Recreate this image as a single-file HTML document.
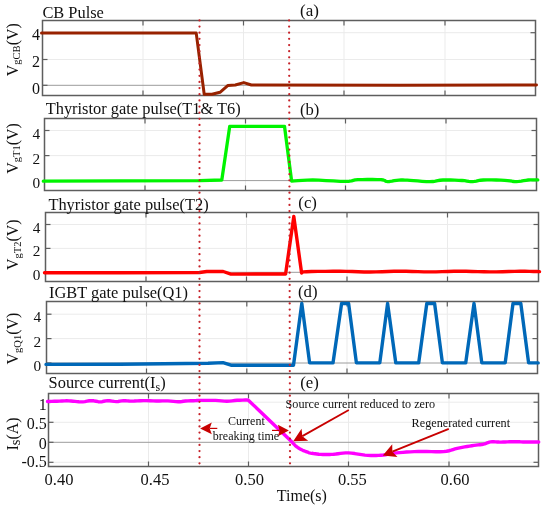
<!DOCTYPE html><html><head><meta charset="utf-8"><title>Figure</title>
<style>html,body{margin:0;padding:0;background:#fff;width:550px;height:513px;overflow:hidden}svg{display:block}text{font-family:'Liberation Serif', 'Times New Roman', serif;fill:#111}</style></head><body>
<svg width="550" height="513" viewBox="0 0 550 513">
<rect x="0" y="0" width="550" height="513" fill="#fff"/>
<line x1="143" y1="20.5" x2="143" y2="95.5" stroke="#ebebeb" stroke-width="1"/><line x1="243.5" y1="20.5" x2="243.5" y2="95.5" stroke="#ebebeb" stroke-width="1"/><line x1="344" y1="20.5" x2="344" y2="95.5" stroke="#ebebeb" stroke-width="1"/><line x1="445" y1="20.5" x2="445" y2="95.5" stroke="#ebebeb" stroke-width="1"/><line x1="42.5" y1="32.7" x2="535.5" y2="32.7" stroke="#ebebeb" stroke-width="1"/><line x1="42.5" y1="59.5" x2="535.5" y2="59.5" stroke="#ebebeb" stroke-width="1"/><line x1="42.5" y1="85.3" x2="535.5" y2="85.3" stroke="#9c9c9c" stroke-width="1"/>
<line x1="145" y1="118.5" x2="145" y2="190.5" stroke="#ebebeb" stroke-width="1"/><line x1="245.5" y1="118.5" x2="245.5" y2="190.5" stroke="#ebebeb" stroke-width="1"/><line x1="345.5" y1="118.5" x2="345.5" y2="190.5" stroke="#ebebeb" stroke-width="1"/><line x1="446" y1="118.5" x2="446" y2="190.5" stroke="#ebebeb" stroke-width="1"/><line x1="44.5" y1="130.5" x2="536.5" y2="130.5" stroke="#ebebeb" stroke-width="1"/><line x1="44.5" y1="155.6" x2="536.5" y2="155.6" stroke="#ebebeb" stroke-width="1"/><line x1="44.5" y1="180.6" x2="536.5" y2="180.6" stroke="#9c9c9c" stroke-width="1"/>
<line x1="146" y1="212.5" x2="146" y2="281.5" stroke="#ebebeb" stroke-width="1"/><line x1="246.5" y1="212.5" x2="246.5" y2="281.5" stroke="#ebebeb" stroke-width="1"/><line x1="347" y1="212.5" x2="347" y2="281.5" stroke="#ebebeb" stroke-width="1"/><line x1="447.5" y1="212.5" x2="447.5" y2="281.5" stroke="#ebebeb" stroke-width="1"/><line x1="45.5" y1="224.5" x2="538.5" y2="224.5" stroke="#ebebeb" stroke-width="1"/><line x1="45.5" y1="248.4" x2="538.5" y2="248.4" stroke="#ebebeb" stroke-width="1"/><line x1="45.5" y1="272.3" x2="538.5" y2="272.3" stroke="#9c9c9c" stroke-width="1"/>
<line x1="146.5" y1="301.5" x2="146.5" y2="373.5" stroke="#ebebeb" stroke-width="1"/><line x1="246.8" y1="301.5" x2="246.8" y2="373.5" stroke="#ebebeb" stroke-width="1"/><line x1="347" y1="301.5" x2="347" y2="373.5" stroke="#ebebeb" stroke-width="1"/><line x1="447.3" y1="301.5" x2="447.3" y2="373.5" stroke="#ebebeb" stroke-width="1"/><line x1="46.5" y1="314.2" x2="537.5" y2="314.2" stroke="#ebebeb" stroke-width="1"/><line x1="46.5" y1="338.6" x2="537.5" y2="338.6" stroke="#ebebeb" stroke-width="1"/><line x1="46.5" y1="363" x2="537.5" y2="363" stroke="#9c9c9c" stroke-width="1"/>
<line x1="148.5" y1="393.5" x2="148.5" y2="466.5" stroke="#ebebeb" stroke-width="1"/><line x1="248.5" y1="393.5" x2="248.5" y2="466.5" stroke="#ebebeb" stroke-width="1"/><line x1="348.5" y1="393.5" x2="348.5" y2="466.5" stroke="#ebebeb" stroke-width="1"/><line x1="449" y1="393.5" x2="449" y2="466.5" stroke="#ebebeb" stroke-width="1"/><line x1="48.5" y1="402.2" x2="538.5" y2="402.2" stroke="#ebebeb" stroke-width="1"/><line x1="48.5" y1="422.3" x2="538.5" y2="422.3" stroke="#ebebeb" stroke-width="1"/><line x1="48.5" y1="462.3" x2="538.5" y2="462.3" stroke="#ebebeb" stroke-width="1"/><line x1="48.5" y1="442.3" x2="538.5" y2="442.3" stroke="#9c9c9c" stroke-width="1"/>
<rect x="42.5" y="20.5" width="493" height="75" fill="none" stroke="#5e5e5e" stroke-width="1.5"/><line x1="143" y1="20.5" x2="143" y2="25.5" stroke="#5e5e5e" stroke-width="1.2"/><line x1="143" y1="95.5" x2="143" y2="90.5" stroke="#5e5e5e" stroke-width="1.2"/><line x1="243.5" y1="20.5" x2="243.5" y2="25.5" stroke="#5e5e5e" stroke-width="1.2"/><line x1="243.5" y1="95.5" x2="243.5" y2="90.5" stroke="#5e5e5e" stroke-width="1.2"/><line x1="344" y1="20.5" x2="344" y2="25.5" stroke="#5e5e5e" stroke-width="1.2"/><line x1="344" y1="95.5" x2="344" y2="90.5" stroke="#5e5e5e" stroke-width="1.2"/><line x1="445" y1="20.5" x2="445" y2="25.5" stroke="#5e5e5e" stroke-width="1.2"/><line x1="445" y1="95.5" x2="445" y2="90.5" stroke="#5e5e5e" stroke-width="1.2"/><line x1="42.5" y1="32.7" x2="47.5" y2="32.7" stroke="#5e5e5e" stroke-width="1.2"/><line x1="535.5" y1="32.7" x2="530.5" y2="32.7" stroke="#5e5e5e" stroke-width="1.2"/><text x="40" y="40.2" font-size="16" text-anchor="end">4</text><line x1="42.5" y1="59.5" x2="47.5" y2="59.5" stroke="#5e5e5e" stroke-width="1.2"/><line x1="535.5" y1="59.5" x2="530.5" y2="59.5" stroke="#5e5e5e" stroke-width="1.2"/><text x="40" y="67" font-size="16" text-anchor="end">2</text><line x1="42.5" y1="85.3" x2="47.5" y2="85.3" stroke="#5e5e5e" stroke-width="1.2"/><line x1="535.5" y1="85.3" x2="530.5" y2="85.3" stroke="#5e5e5e" stroke-width="1.2"/><text x="40" y="93.5" font-size="16" text-anchor="end">0</text>
<rect x="44.5" y="118.5" width="492" height="72" fill="none" stroke="#5e5e5e" stroke-width="1.5"/><line x1="145" y1="118.5" x2="145" y2="123.5" stroke="#5e5e5e" stroke-width="1.2"/><line x1="145" y1="190.5" x2="145" y2="185.5" stroke="#5e5e5e" stroke-width="1.2"/><line x1="245.5" y1="118.5" x2="245.5" y2="123.5" stroke="#5e5e5e" stroke-width="1.2"/><line x1="245.5" y1="190.5" x2="245.5" y2="185.5" stroke="#5e5e5e" stroke-width="1.2"/><line x1="345.5" y1="118.5" x2="345.5" y2="123.5" stroke="#5e5e5e" stroke-width="1.2"/><line x1="345.5" y1="190.5" x2="345.5" y2="185.5" stroke="#5e5e5e" stroke-width="1.2"/><line x1="446" y1="118.5" x2="446" y2="123.5" stroke="#5e5e5e" stroke-width="1.2"/><line x1="446" y1="190.5" x2="446" y2="185.5" stroke="#5e5e5e" stroke-width="1.2"/><line x1="44.5" y1="130.5" x2="49.5" y2="130.5" stroke="#5e5e5e" stroke-width="1.2"/><line x1="536.5" y1="130.5" x2="531.5" y2="130.5" stroke="#5e5e5e" stroke-width="1.2"/><text x="40.1" y="139.1" font-size="15.3" text-anchor="end">4</text><line x1="44.5" y1="155.6" x2="49.5" y2="155.6" stroke="#5e5e5e" stroke-width="1.2"/><line x1="536.5" y1="155.6" x2="531.5" y2="155.6" stroke="#5e5e5e" stroke-width="1.2"/><text x="40.1" y="163.6" font-size="15.3" text-anchor="end">2</text><line x1="44.5" y1="180.6" x2="49.5" y2="180.6" stroke="#5e5e5e" stroke-width="1.2"/><line x1="536.5" y1="180.6" x2="531.5" y2="180.6" stroke="#5e5e5e" stroke-width="1.2"/><text x="40.1" y="187.8" font-size="15.3" text-anchor="end">0</text>
<rect x="45.5" y="212.5" width="493" height="69" fill="none" stroke="#5e5e5e" stroke-width="1.5"/><line x1="146" y1="212.5" x2="146" y2="217.5" stroke="#5e5e5e" stroke-width="1.2"/><line x1="146" y1="281.5" x2="146" y2="276.5" stroke="#5e5e5e" stroke-width="1.2"/><line x1="246.5" y1="212.5" x2="246.5" y2="217.5" stroke="#5e5e5e" stroke-width="1.2"/><line x1="246.5" y1="281.5" x2="246.5" y2="276.5" stroke="#5e5e5e" stroke-width="1.2"/><line x1="347" y1="212.5" x2="347" y2="217.5" stroke="#5e5e5e" stroke-width="1.2"/><line x1="347" y1="281.5" x2="347" y2="276.5" stroke="#5e5e5e" stroke-width="1.2"/><line x1="447.5" y1="212.5" x2="447.5" y2="217.5" stroke="#5e5e5e" stroke-width="1.2"/><line x1="447.5" y1="281.5" x2="447.5" y2="276.5" stroke="#5e5e5e" stroke-width="1.2"/><line x1="45.5" y1="224.5" x2="50.5" y2="224.5" stroke="#5e5e5e" stroke-width="1.2"/><line x1="538.5" y1="224.5" x2="533.5" y2="224.5" stroke="#5e5e5e" stroke-width="1.2"/><text x="40.5" y="232.5" font-size="15.3" text-anchor="end">4</text><line x1="45.5" y1="248.4" x2="50.5" y2="248.4" stroke="#5e5e5e" stroke-width="1.2"/><line x1="538.5" y1="248.4" x2="533.5" y2="248.4" stroke="#5e5e5e" stroke-width="1.2"/><text x="40.5" y="256.1" font-size="15.3" text-anchor="end">2</text><line x1="45.5" y1="272.3" x2="50.5" y2="272.3" stroke="#5e5e5e" stroke-width="1.2"/><line x1="538.5" y1="272.3" x2="533.5" y2="272.3" stroke="#5e5e5e" stroke-width="1.2"/><text x="40.5" y="280.1" font-size="15.3" text-anchor="end">0</text>
<rect x="46.5" y="301.5" width="491" height="72" fill="none" stroke="#5e5e5e" stroke-width="1.5"/><line x1="146.5" y1="301.5" x2="146.5" y2="306.5" stroke="#5e5e5e" stroke-width="1.2"/><line x1="146.5" y1="373.5" x2="146.5" y2="368.5" stroke="#5e5e5e" stroke-width="1.2"/><line x1="246.8" y1="301.5" x2="246.8" y2="306.5" stroke="#5e5e5e" stroke-width="1.2"/><line x1="246.8" y1="373.5" x2="246.8" y2="368.5" stroke="#5e5e5e" stroke-width="1.2"/><line x1="347" y1="301.5" x2="347" y2="306.5" stroke="#5e5e5e" stroke-width="1.2"/><line x1="347" y1="373.5" x2="347" y2="368.5" stroke="#5e5e5e" stroke-width="1.2"/><line x1="447.3" y1="301.5" x2="447.3" y2="306.5" stroke="#5e5e5e" stroke-width="1.2"/><line x1="447.3" y1="373.5" x2="447.3" y2="368.5" stroke="#5e5e5e" stroke-width="1.2"/><line x1="46.5" y1="314.2" x2="51.5" y2="314.2" stroke="#5e5e5e" stroke-width="1.2"/><line x1="537.5" y1="314.2" x2="532.5" y2="314.2" stroke="#5e5e5e" stroke-width="1.2"/><text x="41.2" y="321.9" font-size="15.3" text-anchor="end">4</text><line x1="46.5" y1="338.6" x2="51.5" y2="338.6" stroke="#5e5e5e" stroke-width="1.2"/><line x1="537.5" y1="338.6" x2="532.5" y2="338.6" stroke="#5e5e5e" stroke-width="1.2"/><text x="41.2" y="346.5" font-size="15.3" text-anchor="end">2</text><line x1="46.5" y1="363" x2="51.5" y2="363" stroke="#5e5e5e" stroke-width="1.2"/><line x1="537.5" y1="363" x2="532.5" y2="363" stroke="#5e5e5e" stroke-width="1.2"/><text x="41.2" y="370.6" font-size="15.3" text-anchor="end">0</text>
<rect x="48.5" y="393.5" width="490" height="73" fill="none" stroke="#5e5e5e" stroke-width="1.5"/><line x1="148.5" y1="393.5" x2="148.5" y2="398.5" stroke="#5e5e5e" stroke-width="1.2"/><line x1="148.5" y1="466.5" x2="148.5" y2="461.5" stroke="#5e5e5e" stroke-width="1.2"/><line x1="248.5" y1="393.5" x2="248.5" y2="398.5" stroke="#5e5e5e" stroke-width="1.2"/><line x1="248.5" y1="466.5" x2="248.5" y2="461.5" stroke="#5e5e5e" stroke-width="1.2"/><line x1="348.5" y1="393.5" x2="348.5" y2="398.5" stroke="#5e5e5e" stroke-width="1.2"/><line x1="348.5" y1="466.5" x2="348.5" y2="461.5" stroke="#5e5e5e" stroke-width="1.2"/><line x1="449" y1="393.5" x2="449" y2="398.5" stroke="#5e5e5e" stroke-width="1.2"/><line x1="449" y1="466.5" x2="449" y2="461.5" stroke="#5e5e5e" stroke-width="1.2"/><line x1="48.5" y1="402.2" x2="53.5" y2="402.2" stroke="#5e5e5e" stroke-width="1.2"/><line x1="538.5" y1="402.2" x2="533.5" y2="402.2" stroke="#5e5e5e" stroke-width="1.2"/><text x="46.8" y="409.7" font-size="16" text-anchor="end">1</text><line x1="48.5" y1="422.3" x2="53.5" y2="422.3" stroke="#5e5e5e" stroke-width="1.2"/><line x1="538.5" y1="422.3" x2="533.5" y2="422.3" stroke="#5e5e5e" stroke-width="1.2"/><text x="46.8" y="429.3" font-size="16" text-anchor="end">0.5</text><line x1="48.5" y1="442.3" x2="53.5" y2="442.3" stroke="#5e5e5e" stroke-width="1.2"/><line x1="538.5" y1="442.3" x2="533.5" y2="442.3" stroke="#5e5e5e" stroke-width="1.2"/><text x="46.8" y="449" font-size="16" text-anchor="end">0</text><line x1="48.5" y1="462.3" x2="53.5" y2="462.3" stroke="#5e5e5e" stroke-width="1.2"/><line x1="538.5" y1="462.3" x2="533.5" y2="462.3" stroke="#5e5e5e" stroke-width="1.2"/><text x="46.8" y="467" font-size="16" text-anchor="end">-0.5</text>
<polyline points="41.5,32.9 196.2,32.9 204.2,94.2 212,94.2 220,92.3 228,85.4 235.3,85 243.8,82.6 251.4,85 400,85.2 536.5,85" fill="none" stroke="#982200" stroke-width="3" stroke-linejoin="round" stroke-linecap="round"/>
<polyline points="43.3,181.2 199.5,180.7 221.8,180 229.7,126.4 284.5,126.3 291.6,181 294.28,180.83 297.95,180.56 302.39,180.28 307.38,180.06 312.7,180 318.87,180.18 326.04,180.54 333.42,180.95 340.23,181.28 345.7,181.4 349.31,181.23 351.6,180.86 353.3,180.41 355.19,179.98 358,179.7 362.18,179.56 367.21,179.49 372.46,179.48 377.27,179.55 381,179.7 383.31,180.01 384.63,180.49 385.47,180.99 386.33,181.41 387.7,181.6 389.67,181.49 391.9,181.16 394.28,180.74 396.69,180.35 399,180.1 401.08,180.01 402.99,180 404.97,180.05 407.23,180.16 410,180.3 413.54,180.55 417.69,180.92 422.07,181.31 426.3,181.6 430,181.7 432.95,181.52 435.42,181.14 437.7,180.67 440.13,180.25 443,180 446.55,179.95 450.57,180.01 454.72,180.15 458.64,180.33 462,180.5 464.66,180.72 466.84,181.03 468.76,181.33 470.61,181.54 472.6,181.6 474.56,181.42 476.36,181.06 478.25,180.63 480.48,180.24 483.3,180 487.03,179.92 491.51,179.94 496.26,180.02 500.78,180.15 504.6,180.3 507.57,180.54 510,180.89 512.14,181.24 514.19,181.51 516.4,181.6 518.8,181.44 521.23,181.1 523.64,180.67 525.98,180.27 528.2,180 530.41,179.88 532.66,179.85 534.76,179.86 536.53,179.89 537.8,179.9" fill="none" stroke="#00f400" stroke-width="3.3" stroke-linejoin="round" stroke-linecap="round"/>
<polyline points="44.5,272.7 120,272.8 199.5,272.5 206.8,271.5 223.2,271.5 230.9,274.1 285.6,274 293.8,216.4 301.6,273 301.79,272.81 301.79,272.53 302.18,272.22 303.52,271.92 306.4,271.7 311.33,271.54 317.94,271.42 325.44,271.34 333.05,271.3 340,271.3 346.23,271.39 352.26,271.57 358.17,271.78 364.06,271.94 370,272 376,271.91 382,271.72 388,271.48 394,271.29 400,271.2 406,271.27 412,271.44 418,271.65 424,271.83 430,271.9 436,271.83 442,271.65 448,271.45 454,271.27 460,271.2 466,271.27 472,271.44 478,271.65 484,271.82 490,271.9 496.17,271.85 502.5,271.71 508.76,271.54 514.67,271.38 520,271.3 524.88,271.31 529.49,271.37 533.61,271.46 537.02,271.54 539.5,271.6" fill="none" stroke="#ff0000" stroke-width="3.4" stroke-linejoin="round" stroke-linecap="round"/>
<polyline points="46,364.4 120,364.3 208,363.2 223,362.6 231,365.2 293.5,365.2 301.8,303.4 309.6,362.9 333,362.9 341.6,303.5 348.6,303.5 356.4,362.9 379.8,362.9 387.6,303.4 395.8,362.9 418.7,362.9 426.8,303.5 434.6,303.5 442.4,362.9 465.7,362.9 474,303.4 481.8,362.9 505.2,362.9 513,303.5 520.8,303.5 528.6,362.9 538.2,362.9" fill="none" stroke="#0068b8" stroke-width="3.4" stroke-linejoin="round" stroke-linecap="round"/>
<polyline points="47.5,401.5 49.2,401.45 51.64,401.38 54.38,401.29 57,401.2 59.47,401.08 61.98,400.94 64.46,400.83 66.8,400.8 68.97,400.88 71.03,401.04 73.02,401.23 75,401.4 76.96,401.57 78.87,401.77 80.8,401.9 82.8,401.9 84.91,401.64 87.09,401.2 89.3,400.78 91.5,400.6 93.73,400.8 95.99,401.25 98.21,401.7 100.3,401.9 102.17,401.7 103.9,401.27 105.62,400.82 107.5,400.6 109.62,400.73 111.9,401.08 114.18,401.43 116.3,401.6 118.19,401.48 119.94,401.19 121.67,400.88 123.5,400.7 125.38,400.73 127.27,400.88 129.3,401.03 131.6,401.1 134.24,401.02 137.14,400.85 140.19,400.68 143.3,400.6 146.51,400.65 149.86,400.78 153.2,400.91 156.4,401 159.44,400.99 162.38,400.92 165.23,400.87 168,400.9 170.72,401.09 173.37,401.39 175.89,401.67 178.2,401.8 180.16,401.71 181.86,401.48 183.55,401.21 185.5,401 187.96,400.87 190.72,400.76 193.4,400.68 195.6,400.6 196.89,400.53 197.57,400.48 198.43,400.43 200.2,400.4 203.36,400.37 207.42,400.34 211.7,400.34 215.5,400.4 218.65,400.58 221.52,400.86 224.23,401.1 226.9,401.2 229.54,401.08 232.09,400.82 234.6,400.52 237.1,400.3 239.83,400.18 242.69,400.09 245.23,400.04 247,400 248.6,400.4 291,441 291.54,441.59 292.3,442.42 293.19,443.4 294.15,444.42 295.11,445.39 296,446.2 296.83,446.86 297.67,447.45 298.5,447.99 299.33,448.48 300.17,448.95 301,449.4 301.82,449.83 302.64,450.23 303.45,450.59 304.27,450.94 305.12,451.27 306,451.6 306.86,451.92 307.69,452.22 308.53,452.51 309.46,452.79 310.53,453.05 311.8,453.3 313.32,453.55 315.06,453.79 316.93,454.02 318.88,454.23 320.82,454.39 322.7,454.5 324.47,454.55 326.19,454.55 327.91,454.51 329.68,454.43 331.56,454.33 333.6,454.2 335.79,454 338.07,453.7 340.46,453.37 342.97,453.09 345.61,452.91 348.4,452.9 351.44,453.13 354.74,453.56 358.17,454.09 361.61,454.64 364.93,455.11 368,455.4 370.82,455.52 373.5,455.54 376.06,455.49 378.52,455.37 380.93,455.2 383.3,455 385.51,454.74 387.51,454.4 389.44,454.01 391.47,453.61 393.74,453.23 396.4,452.9 399.49,452.61 402.89,452.33 406.53,452.06 410.34,451.83 414.26,451.64 418.2,451.5 422.36,451.47 426.84,451.54 431.41,451.66 435.87,451.76 440.01,451.76 443.6,451.6 446.54,451.25 448.97,450.76 451.08,450.18 453.03,449.55 455.01,448.94 457.2,448.4 459.61,447.91 462.11,447.42 464.63,446.94 467.13,446.49 469.53,446.07 471.8,445.7 473.94,445.39 476.02,445.14 478.01,444.92 479.89,444.71 481.66,444.48 483.3,444.2 484.72,443.83 485.93,443.4 487.01,442.94 488.09,442.51 489.25,442.15 490.6,441.9 492.14,441.8 493.79,441.8 495.53,441.88 497.33,441.99 499.2,442.07 501.1,442.1 503.08,442.06 505.16,441.99 507.29,441.89 509.44,441.8 511.56,441.73 513.6,441.7 515.54,441.71 517.4,441.76 519.23,441.82 521.07,441.9 522.98,441.96 525,442 527.31,442.02 529.9,442.02 532.56,442.02 535.06,442.01 537.18,442 538.7,442" fill="none" stroke="#ff00ff" stroke-width="3.4" stroke-linejoin="round" stroke-linecap="round"/>
<g fill="#c62229"><circle cx="199.5" cy="20.4" r="1.12"/><circle cx="199.5" cy="26.55" r="1.12"/><circle cx="199.5" cy="32.7" r="1.12"/><circle cx="199.5" cy="38.86" r="1.12"/><circle cx="199.5" cy="45.01" r="1.12"/><circle cx="199.5" cy="51.16" r="1.12"/><circle cx="199.5" cy="57.31" r="1.12"/><circle cx="199.5" cy="63.46" r="1.12"/><circle cx="199.5" cy="69.62" r="1.12"/><circle cx="199.5" cy="75.77" r="1.12"/><circle cx="199.5" cy="81.92" r="1.12"/><circle cx="199.5" cy="88.07" r="1.12"/><circle cx="199.5" cy="94.22" r="1.12"/><circle cx="199.5" cy="100.38" r="1.12"/><circle cx="199.5" cy="106.53" r="1.12"/><circle cx="199.5" cy="112.68" r="1.12"/><circle cx="199.5" cy="118.83" r="1.12"/><circle cx="199.5" cy="124.98" r="1.12"/><circle cx="199.5" cy="131.14" r="1.12"/><circle cx="199.5" cy="137.29" r="1.12"/><circle cx="199.5" cy="143.44" r="1.12"/><circle cx="199.5" cy="149.59" r="1.12"/><circle cx="199.5" cy="155.74" r="1.12"/><circle cx="199.5" cy="161.9" r="1.12"/><circle cx="199.5" cy="168.05" r="1.12"/><circle cx="199.5" cy="174.2" r="1.12"/><circle cx="199.5" cy="180.35" r="1.12"/><circle cx="199.5" cy="186.5" r="1.12"/><circle cx="199.5" cy="192.66" r="1.12"/><circle cx="199.5" cy="198.81" r="1.12"/><circle cx="199.5" cy="204.96" r="1.12"/><circle cx="199.5" cy="211.11" r="1.12"/><circle cx="199.5" cy="217.26" r="1.12"/><circle cx="199.5" cy="223.42" r="1.12"/><circle cx="199.5" cy="229.57" r="1.12"/><circle cx="199.5" cy="235.72" r="1.12"/><circle cx="199.5" cy="241.87" r="1.12"/><circle cx="199.5" cy="248.02" r="1.12"/><circle cx="199.5" cy="254.18" r="1.12"/><circle cx="199.5" cy="260.33" r="1.12"/><circle cx="199.5" cy="266.48" r="1.12"/><circle cx="199.5" cy="272.63" r="1.12"/><circle cx="199.5" cy="278.78" r="1.12"/><circle cx="199.5" cy="284.94" r="1.12"/><circle cx="199.5" cy="291.09" r="1.12"/><circle cx="199.5" cy="297.24" r="1.12"/><circle cx="199.5" cy="303.39" r="1.12"/><circle cx="199.5" cy="309.54" r="1.12"/><circle cx="199.5" cy="315.7" r="1.12"/><circle cx="199.5" cy="321.85" r="1.12"/><circle cx="199.5" cy="328" r="1.12"/><circle cx="199.5" cy="334.15" r="1.12"/><circle cx="199.5" cy="340.3" r="1.12"/><circle cx="199.5" cy="346.46" r="1.12"/><circle cx="199.5" cy="352.61" r="1.12"/><circle cx="199.5" cy="358.76" r="1.12"/><circle cx="199.5" cy="364.91" r="1.12"/><circle cx="199.5" cy="371.06" r="1.12"/><circle cx="199.5" cy="377.22" r="1.12"/><circle cx="199.5" cy="383.37" r="1.12"/><circle cx="199.5" cy="389.52" r="1.12"/><circle cx="199.5" cy="395.67" r="1.12"/><circle cx="199.5" cy="401.82" r="1.12"/><circle cx="199.5" cy="407.98" r="1.12"/><circle cx="199.5" cy="414.13" r="1.12"/><circle cx="199.5" cy="420.28" r="1.12"/><circle cx="199.5" cy="426.43" r="1.12"/><circle cx="199.5" cy="432.58" r="1.12"/><circle cx="199.5" cy="438.74" r="1.12"/><circle cx="199.5" cy="444.89" r="1.12"/><circle cx="199.5" cy="451.04" r="1.12"/><circle cx="199.5" cy="457.19" r="1.12"/><circle cx="199.5" cy="463.34" r="1.12"/></g>
<g fill="#c62229"><circle cx="289.1" cy="20.4" r="1.12"/><circle cx="289.11" cy="26.55" r="1.12"/><circle cx="289.12" cy="32.7" r="1.12"/><circle cx="289.14" cy="38.86" r="1.12"/><circle cx="289.15" cy="45.01" r="1.12"/><circle cx="289.16" cy="51.16" r="1.12"/><circle cx="289.18" cy="57.31" r="1.12"/><circle cx="289.19" cy="63.46" r="1.12"/><circle cx="289.2" cy="69.62" r="1.12"/><circle cx="289.21" cy="75.77" r="1.12"/><circle cx="289.23" cy="81.92" r="1.12"/><circle cx="289.24" cy="88.07" r="1.12"/><circle cx="289.25" cy="94.22" r="1.12"/><circle cx="289.26" cy="100.38" r="1.12"/><circle cx="289.28" cy="106.53" r="1.12"/><circle cx="289.29" cy="112.68" r="1.12"/><circle cx="289.3" cy="118.83" r="1.12"/><circle cx="289.31" cy="124.98" r="1.12"/><circle cx="289.33" cy="131.14" r="1.12"/><circle cx="289.34" cy="137.29" r="1.12"/><circle cx="289.35" cy="143.44" r="1.12"/><circle cx="289.36" cy="149.59" r="1.12"/><circle cx="289.38" cy="155.74" r="1.12"/><circle cx="289.39" cy="161.9" r="1.12"/><circle cx="289.4" cy="168.05" r="1.12"/><circle cx="289.41" cy="174.2" r="1.12"/><circle cx="289.43" cy="180.35" r="1.12"/><circle cx="289.44" cy="186.5" r="1.12"/><circle cx="289.45" cy="192.66" r="1.12"/><circle cx="289.46" cy="198.81" r="1.12"/><circle cx="289.48" cy="204.96" r="1.12"/><circle cx="289.49" cy="211.11" r="1.12"/><circle cx="289.5" cy="217.26" r="1.12"/><circle cx="289.51" cy="223.42" r="1.12"/><circle cx="289.53" cy="229.57" r="1.12"/><circle cx="289.54" cy="235.72" r="1.12"/><circle cx="289.55" cy="241.87" r="1.12"/><circle cx="289.56" cy="248.02" r="1.12"/><circle cx="289.57" cy="254.18" r="1.12"/><circle cx="289.59" cy="260.33" r="1.12"/><circle cx="289.6" cy="266.48" r="1.12"/><circle cx="289.61" cy="272.63" r="1.12"/><circle cx="289.62" cy="278.78" r="1.12"/><circle cx="289.64" cy="284.94" r="1.12"/><circle cx="289.65" cy="291.09" r="1.12"/><circle cx="289.66" cy="297.24" r="1.12"/><circle cx="289.68" cy="303.39" r="1.12"/><circle cx="289.69" cy="309.54" r="1.12"/><circle cx="289.7" cy="315.7" r="1.12"/><circle cx="289.71" cy="321.85" r="1.12"/><circle cx="289.73" cy="328" r="1.12"/><circle cx="289.74" cy="334.15" r="1.12"/><circle cx="289.75" cy="340.3" r="1.12"/><circle cx="289.76" cy="346.46" r="1.12"/><circle cx="289.77" cy="352.61" r="1.12"/><circle cx="289.79" cy="358.76" r="1.12"/><circle cx="289.8" cy="364.91" r="1.12"/><circle cx="289.81" cy="371.06" r="1.12"/><circle cx="289.82" cy="377.22" r="1.12"/><circle cx="289.84" cy="383.37" r="1.12"/><circle cx="289.85" cy="389.52" r="1.12"/><circle cx="289.86" cy="395.67" r="1.12"/><circle cx="289.88" cy="401.82" r="1.12"/><circle cx="289.89" cy="407.98" r="1.12"/><circle cx="289.9" cy="414.13" r="1.12"/><circle cx="289.91" cy="420.28" r="1.12"/><circle cx="289.93" cy="426.43" r="1.12"/><circle cx="289.94" cy="432.58" r="1.12"/><circle cx="289.95" cy="438.74" r="1.12"/><circle cx="289.96" cy="444.89" r="1.12"/><circle cx="289.98" cy="451.04" r="1.12"/><circle cx="289.99" cy="457.19" r="1.12"/><circle cx="290" cy="463.34" r="1.12"/></g>
<text x="42.4" y="17.6" font-size="16.4">CB Pulse</text>
<text x="45.7" y="113.9" font-size="16.4">Thyristor gate pulse(T1&amp; T6)</text>
<text x="48.4" y="209.5" font-size="16.4">Thyristor gate pulse(T2)</text>
<text x="49" y="297.8" font-size="16.4">IGBT gate pulse(Q1)</text>
<text x="48.6" y="388.4" font-size="16.4">Source current(I<tspan font-size="12" dy="2.2">s</tspan><tspan dy="-2.2">)</tspan></text>
<text x="300" y="15.6" font-size="17">(a)</text>
<text x="299.9" y="115.1" font-size="16.6">(b)</text>
<text x="298.3" y="207.6" font-size="16.8">(c)</text>
<text x="298" y="296.9" font-size="16.8">(d)</text>
<text x="300.2" y="388" font-size="16.8">(e)</text>
<text transform="translate(17.6,76.2) rotate(-90)" font-size="16">V<tspan font-size="10.5" dy="2.6">gCB</tspan><tspan dy="-2.6">(V)</tspan></text>
<text transform="translate(17.8,173.8) rotate(-90)" font-size="16">V<tspan font-size="10.5" dy="2.6">gT1</tspan><tspan dy="-2.6">(V)</tspan></text>
<text transform="translate(18.4,270) rotate(-90)" font-size="16">V<tspan font-size="10.5" dy="2.6">gT2</tspan><tspan dy="-2.6">(V)</tspan></text>
<text transform="translate(18.4,364.5) rotate(-90)" font-size="16">V<tspan font-size="10.5" dy="2.6">gQ1</tspan><tspan dy="-2.6">(V)</tspan></text>
<text transform="translate(18,450.5) rotate(-90)" font-size="16">I<tspan font-size="14.5" dy="2.4">s</tspan><tspan dy="-2.4">(A)</tspan></text>
<text x="44.5" y="485.1" font-size="16.5">0.40</text>
<text x="140.5" y="485.1" font-size="16.5">0.45</text>
<text x="235.1" y="485.1" font-size="16.5">0.50</text>
<text x="337.9" y="485.1" font-size="16.5">0.55</text>
<text x="440.6" y="485.1" font-size="16.5">0.60</text>
<text x="276.8" y="500.9" font-size="16">Time(s)</text>
<line x1="217.3" y1="428.4" x2="209.7" y2="428.4" stroke="#c80000" stroke-width="1.2"/><polygon points="200.1,428.4 211.8,422.5 209.7,428.4 211.8,434.3" fill="#c80000"/>
<line x1="272" y1="430.4" x2="279.6" y2="430.4" stroke="#c80000" stroke-width="1.2"/><polygon points="288.9,430.4 277.9,436.15 279.6,430.4 277.9,424.65" fill="#c80000"/>
<line x1="348.8" y1="410" x2="302.35" y2="436.15" stroke="#c80000" stroke-width="1.8"/><polygon points="293.2,441.3 301.54,428.8 302.35,436.15 308.21,440.65" fill="#c80000"/>
<line x1="448.8" y1="428.8" x2="392.35" y2="451.64" stroke="#c80000" stroke-width="1.9"/><polygon points="382.8,455.5 392.23,444.14 392.35,451.64 397.48,457.11" fill="#c80000"/>
<text x="246.4" y="425.1" font-size="12" text-anchor="middle">Current</text>
<text x="246" y="439.5" font-size="12" text-anchor="middle">breaking time</text>
<text x="285.6" y="408" font-size="12.2">Source current reduced to zero</text>
<text x="411.6" y="426.7" font-size="12.2">Regenerated current</text>
</svg></body></html>
